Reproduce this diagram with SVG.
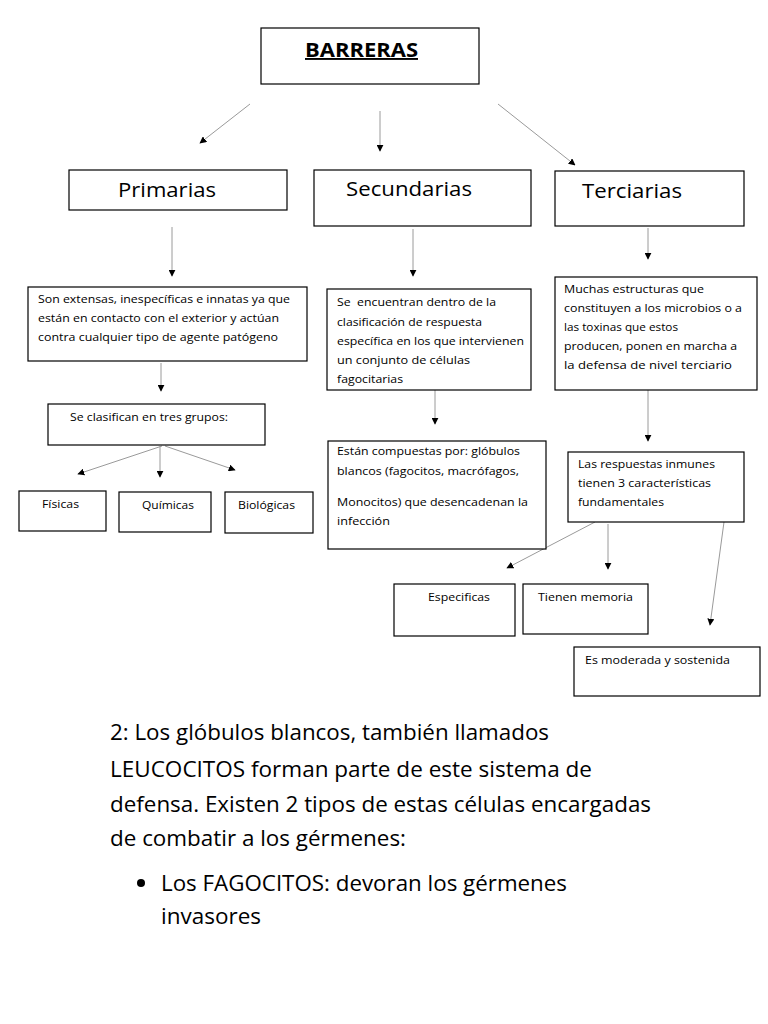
<svg xmlns="http://www.w3.org/2000/svg" width="768" height="1024" viewBox="0 0 768 1024">
<defs>
<marker id="ah" viewBox="0 0 10 10" refX="9" refY="5" markerWidth="7" markerHeight="7" markerUnits="userSpaceOnUse" orient="auto"><path d="M0,0 L10,5 L0,10 z" fill="#000"/></marker>
<style>
.box{fill:#fff;stroke:#000;stroke-width:1.2}
.c{stroke:#9a9a9a;stroke-width:1;fill:none;marker-end:url(#ah)}
text{font-family:"Open Sans","Noto Sans","DejaVu Sans",sans-serif;fill:#000}
.s{font-size:11.5px}
.m{font-size:20px}
.b{font-size:21px}
</style>
</defs>
<rect width="768" height="1024" fill="#fff"/>
<g id="connectors">
<line class="c" x1="250" y1="104" x2="200" y2="143"/>
<line class="c" x1="380" y1="111" x2="380" y2="151"/>
<line class="c" x1="498" y1="104" x2="575" y2="165"/>
<line class="c" x1="172" y1="227" x2="172" y2="276"/>
<line class="c" x1="413" y1="229" x2="413" y2="276"/>
<line class="c" x1="648" y1="228" x2="648" y2="259"/>
<line class="c" x1="161" y1="363" x2="161" y2="391"/>
<line class="c" x1="162" y1="446" x2="78" y2="474"/>
<line class="c" x1="160" y1="446" x2="160" y2="477"/>
<line class="c" x1="165" y1="446" x2="235" y2="470"/>
<line class="c" x1="435" y1="390" x2="435" y2="424"/>
<line class="c" x1="648" y1="390" x2="648" y2="441"/>
<line class="c" x1="595" y1="522" x2="507" y2="568"/>
<line class="c" x1="608" y1="524" x2="608" y2="569"/>
<line class="c" x1="724" y1="522" x2="710" y2="625"/>
</g>
<g id="barreras"><rect class="box" x="261" y="28" width="218" height="56"/><text x="305" y="57" font-size="19" font-weight="bold" text-decoration="underline" textLength="113" lengthAdjust="spacingAndGlyphs">BARRERAS</text></g>
<g id="primarias"><rect class="box" x="69" y="170" width="218" height="40"/><text class="m" x="118" y="197" textLength="98" lengthAdjust="spacingAndGlyphs">Primarias</text></g>
<g id="secundarias"><rect class="box" x="314" y="170" width="217" height="56"/><text class="m" x="346" y="196" textLength="126" lengthAdjust="spacingAndGlyphs">Secundarias</text></g>
<g id="terciarias"><rect class="box" x="555" y="171" width="189" height="55"/><text class="m" x="582" y="198" textLength="100" lengthAdjust="spacingAndGlyphs">Terciarias</text></g>
<g id="prim-desc"><rect class="box" x="28" y="287" width="279" height="74"/>
<text class="s" x="38" y="303" textLength="252" lengthAdjust="spacingAndGlyphs">Son extensas, inespecíficas e innatas ya que</text>
<text class="s" x="38" y="322" textLength="241" lengthAdjust="spacingAndGlyphs">están en contacto con el exterior y actúan</text>
<text class="s" x="38" y="341" textLength="240" lengthAdjust="spacingAndGlyphs">contra cualquier tipo de agente patógeno</text></g>
<g id="clasifican"><rect class="box" x="48" y="404" width="217" height="41"/><text class="s" x="70" y="421" textLength="158" lengthAdjust="spacingAndGlyphs">Se clasifican en tres grupos:</text></g>
<g id="fisicas"><rect class="box" x="19" y="491" width="87" height="40"/><text class="s" x="42" y="508" textLength="37" lengthAdjust="spacingAndGlyphs">Físicas</text></g>
<g id="quimicas"><rect class="box" x="119" y="492" width="92" height="40"/><text class="s" x="142" y="509" textLength="52" lengthAdjust="spacingAndGlyphs">Químicas</text></g>
<g id="biologicas"><rect class="box" x="225" y="492" width="88" height="41"/><text class="s" x="238" y="509" textLength="57" lengthAdjust="spacingAndGlyphs">Biológicas</text></g>
<g id="sec-desc"><rect class="box" x="327" y="289" width="204" height="101"/>
<text class="s" x="337" y="306" textLength="159" lengthAdjust="spacingAndGlyphs" xml:space="preserve">Se  encuentran dentro de la</text>
<text class="s" x="337" y="326" textLength="145" lengthAdjust="spacingAndGlyphs">clasificación de respuesta</text>
<text class="s" x="337" y="345" textLength="187" lengthAdjust="spacingAndGlyphs">específica en los que intervienen</text>
<text class="s" x="337" y="364" textLength="133" lengthAdjust="spacingAndGlyphs">un conjunto de células</text>
<text class="s" x="337" y="383" textLength="66" lengthAdjust="spacingAndGlyphs">fagocitarias</text></g>
<g id="compuestas"><rect class="box" x="328" y="441" width="218" height="108"/>
<text class="s" x="337" y="455" textLength="183" lengthAdjust="spacingAndGlyphs">Están compuestas por: glóbulos</text>
<text class="s" x="337" y="475" textLength="182" lengthAdjust="spacingAndGlyphs">blancos (fagocitos, macrófagos,</text>
<text class="s" x="337" y="506" textLength="191" lengthAdjust="spacingAndGlyphs">Monocitos) que desencadenan la</text>
<text class="s" x="337" y="525" textLength="53" lengthAdjust="spacingAndGlyphs">infección</text></g>
<g id="ter-desc"><rect class="box" x="555" y="277" width="202" height="113"/>
<text class="s" x="564" y="293" textLength="140" lengthAdjust="spacingAndGlyphs">Muchas estructuras que</text>
<text class="s" x="564" y="312" textLength="178" lengthAdjust="spacingAndGlyphs">constituyen a los microbios o a</text>
<text class="s" x="564" y="331" textLength="114" lengthAdjust="spacingAndGlyphs">las toxinas que estos</text>
<text class="s" x="564" y="350" textLength="173" lengthAdjust="spacingAndGlyphs">producen, ponen en marcha a</text>
<text class="s" x="564" y="369" textLength="168" lengthAdjust="spacingAndGlyphs">la defensa de nivel terciario</text></g>
<g id="respuestas"><rect class="box" x="568" y="452" width="176" height="70"/>
<text class="s" x="578" y="468" textLength="137" lengthAdjust="spacingAndGlyphs">Las respuestas inmunes</text>
<text class="s" x="578" y="487" textLength="133" lengthAdjust="spacingAndGlyphs">tienen 3 características</text>
<text class="s" x="578" y="506" textLength="86" lengthAdjust="spacingAndGlyphs">fundamentales</text></g>
<g id="especificas"><rect class="box" x="394" y="584" width="121" height="52"/><text class="s" x="428" y="601" textLength="62" lengthAdjust="spacingAndGlyphs">Especificas</text></g>
<g id="memoria"><rect class="box" x="523" y="584" width="125" height="50"/><text class="s" x="538" y="601" textLength="95" lengthAdjust="spacingAndGlyphs">Tienen memoria</text></g>
<g id="moderada"><rect class="box" x="574" y="647" width="186" height="49"/><text class="s" x="585" y="664" textLength="145" lengthAdjust="spacingAndGlyphs">Es moderada y sostenida</text></g>
<g id="body">
<text class="b" x="110" y="740" textLength="439" lengthAdjust="spacingAndGlyphs">2: Los glóbulos blancos, también llamados</text>
<text class="b" x="110" y="777" textLength="482" lengthAdjust="spacingAndGlyphs">LEUCOCITOS forman parte de este sistema de</text>
<text class="b" x="110" y="812" textLength="541" lengthAdjust="spacingAndGlyphs">defensa. Existen 2 tipos de estas células encargadas</text>
<text class="b" x="110" y="846" textLength="296" lengthAdjust="spacingAndGlyphs">de combatir a los gérmenes:</text>
<circle cx="141" cy="883" r="4" fill="#000"/>
<text class="b" x="161" y="891" textLength="406" lengthAdjust="spacingAndGlyphs">Los FAGOCITOS: devoran los gérmenes</text>
<text class="b" x="161" y="924" textLength="100" lengthAdjust="spacingAndGlyphs">invasores</text>
</g>
</svg>
